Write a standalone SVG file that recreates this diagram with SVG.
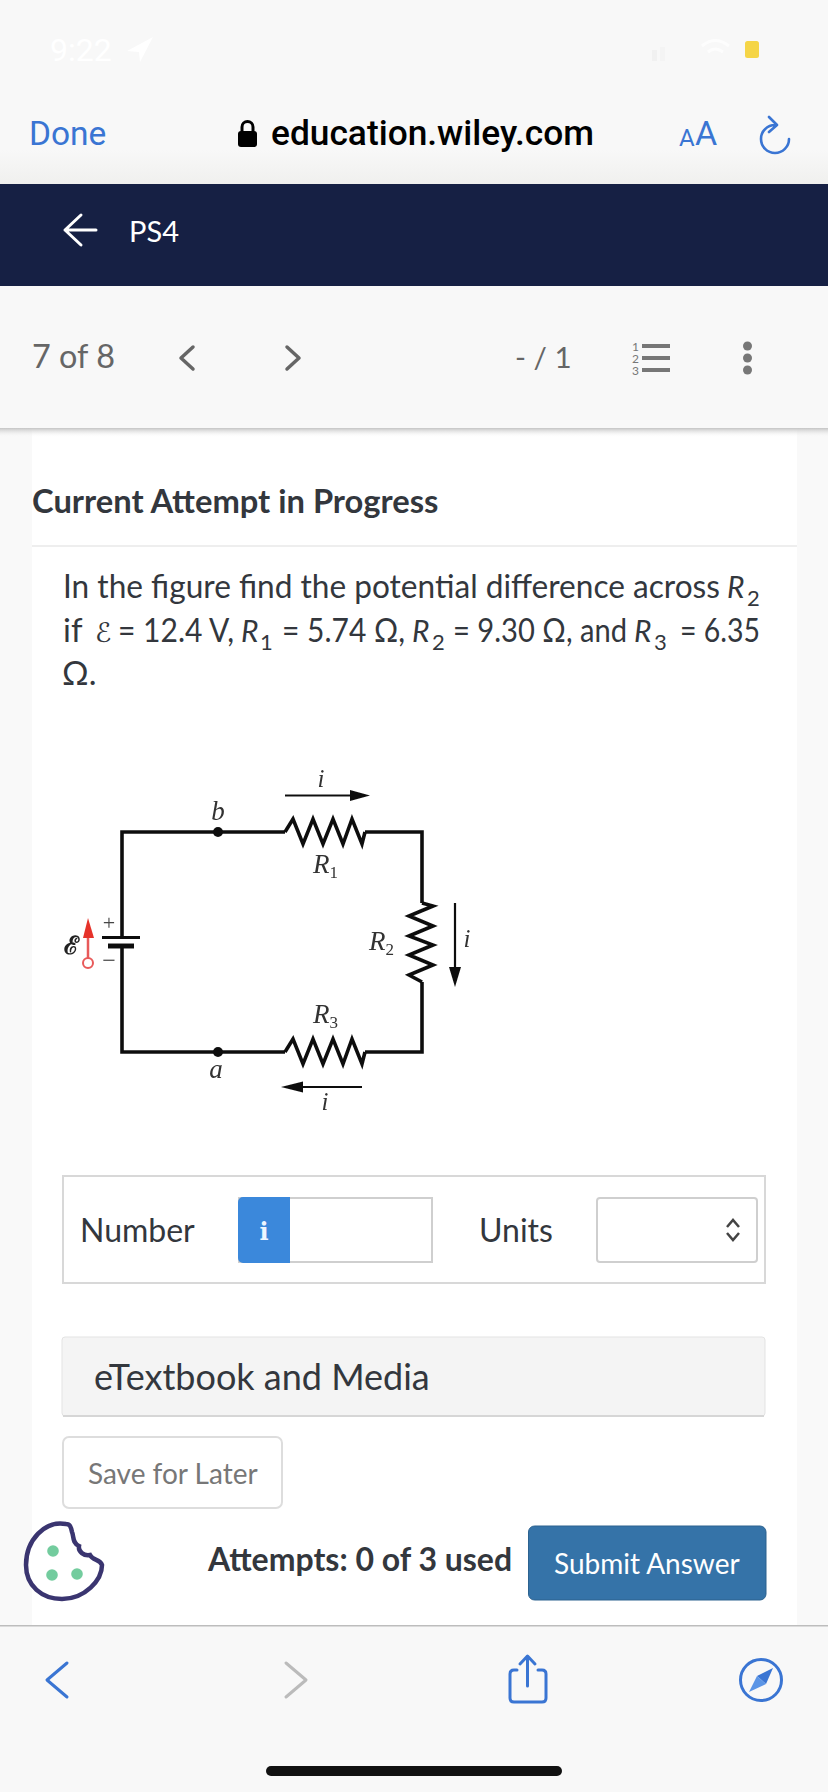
<svg xmlns="http://www.w3.org/2000/svg" width="828" height="1792" viewBox="0 0 828 1792">
<defs>
<linearGradient id="hg" x1="0" y1="0" x2="0" y2="1"><stop offset="0" stop-color="#f8f8f8"/><stop offset="1" stop-color="#f0f0ee"/></linearGradient>
<linearGradient id="sh" x1="0" y1="0" x2="0" y2="1"><stop offset="0" stop-color="#c4c4c4"/><stop offset="1" stop-color="#f9f9f9" stop-opacity="0"/></linearGradient>
<filter id="soft" x="-5%" y="-5%" width="110%" height="110%"><feGaussianBlur stdDeviation="0.7"/></filter>
</defs>
<style>
.l{font-family:Lato,"Liberation Sans",sans-serif}
.s{font-family:Roboto,"Liberation Sans",sans-serif}
.dark{fill:#33373d}
.gray{fill:#666}
.blue{stroke:#3a75d3;fill:none;stroke-linecap:round;stroke-linejoin:round}
.chev{stroke:#666;stroke-width:3.5;fill:none;stroke-linecap:round;stroke-linejoin:round}
.wire{stroke:#111;stroke-width:3.6;fill:none;stroke-linejoin:miter}
.arrow{stroke:#111;stroke-width:2.2;fill:none}
.m{font-family:"Liberation Serif",serif;font-style:italic;fill:#333}
.ms{font-style:normal;font-size:17px}
.box{fill:#fff;stroke:#cfcfcf;stroke-width:2}
.q{font-size:33px}
.r{font-style:italic;font-size:30px}
.sub{font-size:22px}
</style>
<rect width="828" height="1792" fill="#f9f9f9"/>
<rect x="32" y="428" width="765" height="1198" fill="#fff"/>
<g id="status-bar">
<rect width="828" height="150" fill="#f8f8f8"/>
<rect y="150" width="828" height="34" fill="url(#hg)"/>
<text class="s" x="50" y="61" font-size="32" fill="#fff">9:22</text>
<path d="M153 37L127 51L139 52L140 62Z" fill="#fff"/>
<rect x="745" y="41" width="14" height="17" rx="2.500" fill="#f5d547"/>
<path d="M702 46Q715 35 729 46M708 52Q715 46 723 52" fill="none" stroke="#fdfdfd" stroke-width="3"/>
<rect x="652" y="50" width="5" height="11" fill="#f1f1f1"/>
<rect x="660" y="47" width="5" height="14" fill="#f4f4f4"/>
</g>
<g id="browser-bar">
<text class="s" x="29" y="145" font-size="33.500" fill="#3a75d3">Done</text>
<rect x="238" y="131" width="19" height="16" rx="3" fill="#000"/>
<path d="M242 132V127a5.500 5.500 0 0 1 11 0V132" fill="none" stroke="#000" stroke-width="3"/>
<text class="s" x="271" y="145" font-size="35.300" font-weight="500" fill="#000">education.wiley.com</text>
<text class="s" x="679" y="146" font-size="24" fill="#3a75d3">A</text>
<text class="s" x="695" y="145" font-size="34" fill="#3a75d3">A</text>
<path class="blue" stroke-width="2.600" d="M775 125A14 14 0 1 0 789 139M769 117L777 125L769 132"/>
</g>
<g id="course-bar">
<rect y="184" width="828" height="102" fill="#162044"/>
<path d="M96 230H65M81 215L65 230L81 245" fill="none" stroke="#fff" stroke-width="3" stroke-linecap="round" stroke-linejoin="round"/>
<text class="l" x="129" y="242" font-size="29" fill="#fff">PS4</text>
</g>
<g id="toolbar">
<rect y="286" width="828" height="142" fill="#f8f8f8"/>
<rect y="428" width="828" height="9" fill="url(#sh)"/>
<text class="l gray" x="32" y="368" font-size="32.400">7 of 8</text>
<path class="chev" d="M193 347L181 358L193 369"/>
<path class="chev" d="M287 347L299 358L287 369"/>
<text class="l gray" x="515" y="368" font-size="29.500">- / 1</text>
<path d="M642 346H670M642 358H670M642 370H670" stroke="#777" stroke-width="4"/>
<text class="l" x="632" y="351" font-size="12" fill="#777">1</text>
<text class="l" x="632" y="363" font-size="12" fill="#777">2</text>
<text class="l" x="632" y="375" font-size="12" fill="#777">3</text>
<circle cx="747.500" cy="346" r="4.500" fill="#777"/><circle cx="747.500" cy="358" r="4.500" fill="#777"/><circle cx="747.500" cy="370" r="4.500" fill="#777"/>
</g>
<g id="question">
<text class="l dark" x="32" y="513" font-size="32.700" font-weight="700">Current Attempt in Progress</text>
<rect x="32" y="545" width="765" height="2" fill="#eee"/>
<text class="l dark q" x="63" y="598" textLength="657" lengthAdjust="spacingAndGlyphs">In the figure find the potential difference across</text>
<text class="l dark r" x="727" y="598">R</text><text class="l dark sub" x="747" y="606">2</text>
<text class="l dark q" x="63" y="642">if</text>
<text class="dark" x="95" y="642" font-family="DejaVu Sans" font-size="27">ℰ</text>
<text class="l dark q" x="118" y="642" textLength="116" lengthAdjust="spacingAndGlyphs">= 12.4 V,</text>
<text class="l dark r" x="241" y="642">R</text><text class="l dark sub" x="260" y="650">1</text>
<text class="l dark q" x="282" y="642" textLength="123" lengthAdjust="spacingAndGlyphs">= 5.74 Ω,</text>
<text class="l dark r" x="412" y="642">R</text><text class="l dark sub" x="432" y="650">2</text>
<text class="l dark q" x="453" y="642" textLength="174" lengthAdjust="spacingAndGlyphs">= 9.30 Ω, and</text>
<text class="l dark r" x="634" y="642">R</text><text class="l dark sub" x="654" y="650">3</text>
<text class="l dark q" x="680" y="642" textLength="80" lengthAdjust="spacingAndGlyphs">= 6.35</text>
<text class="l dark q" x="62" y="685">Ω.</text>
</g>
<g id="circuit" filter="url(#soft)">
<g id="connectors">
<path class="wire" d="M285 832H122V937M122 946V1052H285M365 832H422V903M422 982V1052H365"/>
<path class="arrow" d="M285 795.500H362M362 1087H286M455 903V975"/>
<path d="M350 790L370 795.500L350 801Z" fill="#111"/>
<path d="M281 1087L303 1081.500V1092.500Z" fill="#111"/>
<path d="M449 967L455 987L461 967Z" fill="#111"/>
</g>
<g id="r1"><path class="wire" d="M285 832L293 819L303 844L313 819L323 844L333 819L343 844L352 819L362 844L365 832"/></g>
<g id="r2"><path class="wire" d="M422 903L433 906L409 916L433 926L409 936L433 945L409 955L433 965L409 975L422 982"/></g>
<g id="r3"><path class="wire" d="M285 1052L293 1039L303 1064L313 1039L323 1064L333 1039L343 1064L352 1039L362 1064L365 1052"/></g>
<g id="battery">
<path d="M102 937.500H140" stroke="#111" stroke-width="3"/>
<path d="M108 946H134" stroke="#111" stroke-width="5"/>
<path d="M88 936V958" stroke="#e85a5a" stroke-width="2.500"/>
<path d="M88 918L83 938H94Z" fill="#e6332a"/>
<circle cx="88" cy="963" r="5" fill="#fff" stroke="#e85a5a" stroke-width="2"/>
<text x="109" y="930" font-family="Liberation Serif" font-size="22" text-anchor="middle" fill="#444">+</text>
<text x="109" y="968" font-family="Liberation Serif" font-size="24" text-anchor="middle" fill="#444">−</text>
<text x="71" y="954" font-family="DejaVu Serif" font-size="25" font-weight="700" text-anchor="middle" fill="#222">ℰ</text>
</g>
<g id="b"><circle cx="218" cy="832" r="5" fill="#111"/><text x="218" y="820" class="m" font-size="27" text-anchor="middle">b</text></g>
<g id="a"><circle cx="218" cy="1052" r="5" fill="#111"/><text x="216" y="1078" class="m" font-size="27" text-anchor="middle">a</text></g>
<text x="321" y="787" class="m" font-size="25" text-anchor="middle">i</text>
<text x="325" y="1110" class="m" font-size="25" text-anchor="middle">i</text>
<text x="467" y="947" class="m" font-size="25" text-anchor="middle">i</text>
<text x="313" y="873" class="m" font-size="27">R<tspan class="ms" dy="5">1</tspan></text>
<text x="369" y="950" class="m" font-size="27">R<tspan class="ms" dy="5">2</tspan></text>
<text x="313" y="1023" class="m" font-size="27">R<tspan class="ms" dy="5">3</tspan></text>
</g>
<g id="answer">
<rect x="63" y="1176" width="702" height="107" fill="#fff" stroke="#d8d8d8" stroke-width="2"/>
<text class="l dark" x="80" y="1242" font-size="32">Number</text>
<rect class="box" x="239" y="1198" width="193" height="64"/>
<path d="M290 1197H243a5 5 0 0 0-5 5V1258a5 5 0 0 0 5 5H290Z" fill="#3b88db"/>
<text x="264" y="1240" font-family="DejaVu Serif" font-weight="700" font-size="24" text-anchor="middle" fill="#eef6ff">i</text>
<text class="l dark" x="479" y="1242" font-size="32">Units</text>
<rect class="box" x="597" y="1198" width="160" height="64" rx="3"/>
<path d="M727 1227L733 1220L739 1227M727 1233L733 1240L739 1233" fill="none" stroke="#444" stroke-width="2.500"/>
</g>
<g id="etextbook">
<rect x="62" y="1337" width="703" height="79" rx="3" fill="#f4f4f4" stroke="#e3e3e3"/>
<rect x="63" y="1415" width="701" height="2" fill="#d6d6d6"/>
<text class="l dark" x="94" y="1390" font-size="36">eTextbook and Media</text>
</g>
<g id="save">
<rect x="63" y="1437" width="219" height="71" rx="6" fill="#fff" stroke="#ddd" stroke-width="2"/>
<text class="l" x="88" y="1484" font-size="28" fill="#777">Save for Later</text>
</g>
<g id="cookie">
<path d="M66 1524C45 1520 26 1540 26 1565C26 1586 42 1599 62 1599C85 1599 102 1580 102 1565C100 1559 93 1561 90 1555C84 1556 78 1552 79 1546C72 1543 74 1536 72 1532C71 1527 70 1524 66 1524Z" fill="#fff" stroke="#3a3570" stroke-width="4.500"/>
<circle cx="53" cy="1551" r="5.800" fill="#73cc9e"/><circle cx="52" cy="1575" r="5.800" fill="#73cc9e"/><circle cx="77" cy="1574" r="5.800" fill="#73cc9e"/>
</g>
<g id="attempts"><text class="l dark" x="208" y="1571" font-size="32" font-weight="700">Attempts: 0 of 3 used</text></g>
<g id="submit">
<rect x="528.500" y="1526" width="237.500" height="74" rx="6" fill="#3573a8" stroke="#2c628f"/>
<text class="l" x="554" y="1574" font-size="28" fill="#fff">Submit Answer</text>
</g>
<g id="bottom-bar">
<rect y="1625" width="828" height="167" fill="#f8f8f8"/>
<rect y="1625" width="828" height="1.500" fill="#bdbdbd"/>
<path class="blue" stroke-width="3" d="M67 1663L47 1680L67 1697"/>
<path d="M286 1663L306 1680L286 1697" fill="none" stroke="#bbb" stroke-width="3" stroke-linecap="round" stroke-linejoin="round"/>
<path class="blue" stroke-width="3" d="M517 1670H514Q510 1670 510 1674V1698Q510 1702 514 1702H542Q546 1702 546 1698V1674Q546 1670 542 1670H538M527.500 1686V1657M520 1664L527.500 1656L535 1664"/>
<circle class="blue" cx="761" cy="1680" r="20.500" stroke-width="3"/>
<path d="M773 1668L766 1684L757 1676Z" fill="#3a75d3"/>
<path d="M749 1692L757 1676L766 1684Z" fill="#5b95e6"/>
<rect x="266" y="1766" width="296" height="10" rx="5" fill="#111"/>
</g>
</svg>
